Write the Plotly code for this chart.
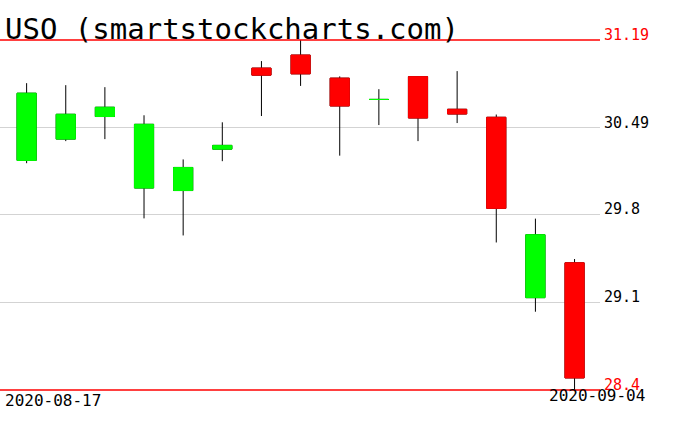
import plotly.graph_objects as go

# --- Data ---
dates = ["2020-08-17", "2020-08-18", "2020-08-19", "2020-08-20", "2020-08-21",
         "2020-08-24", "2020-08-25", "2020-08-26", "2020-08-27", "2020-08-28",
         "2020-08-31", "2020-09-01", "2020-09-02", "2020-09-03", "2020-09-04"]
opens = [30.23, 30.40, 30.58, 30.01, 29.99, 30.32, 30.966, 31.07, 30.886, 30.716,
         30.898, 30.638, 30.574, 29.136, 29.414]
highs = [30.846, 30.83, 30.814, 30.59, 30.238, 30.534, 31.022, 31.19, 30.90, 30.798,
         30.902, 30.942, 30.596, 29.766, 29.444]
lows = [30.208, 30.384, 30.40, 29.768, 29.632, 30.224, 30.584, 30.824, 30.268, 30.512,
        30.384, 30.528, 29.576, 29.024, 28.40]
closes = [30.766, 30.598, 30.654, 30.518, 30.174, 30.35, 30.91, 30.92, 30.664, 30.716,
          30.568, 30.60, 29.848, 29.638, 28.496]
price_ticks = [28.4, 29.1, 29.8, 30.49, 31.19]
title = "USO (smartstockcharts.com)"

font = "DejaVu Sans Mono"
body_top = [max(o, c) for o, c in zip(opens, closes)]
body_bot = [min(o, c) for o, c in zip(opens, closes)]

fig = go.Figure()
# wicks (black)
fig.add_trace(go.Candlestick(
    x=dates, open=opens, high=highs, low=lows, close=closes,
    increasing=dict(line=dict(color="black", width=1), fillcolor="black"),
    decreasing=dict(line=dict(color="black", width=1), fillcolor="black"),
    showlegend=False, hoverinfo="skip"))
# bodies (green / red)
fig.add_trace(go.Candlestick(
    x=dates, open=opens, high=body_top, low=body_bot, close=closes,
    increasing=dict(line=dict(color="#00ff00", width=1), fillcolor="#00ff00"),
    decreasing=dict(line=dict(color="#ff0000", width=1), fillcolor="#ff0000"),
    showlegend=False))

# red lines at the high / low of the period
for v in (max(highs), min(lows)):
    fig.add_shape(type="line", xref="paper", x0=0, x1=1, yref="y", y0=v, y1=v,
                  line=dict(color="red", width=1.5), layer="above")

# price labels on the right
for i, v in enumerate(price_ticks):
    col = "red" if i in (0, len(price_ticks) - 1) else "black"
    fig.add_annotation(x=1, xref="paper", y=v, yref="y", text=str(v),
                       showarrow=False, xanchor="left", yanchor="middle",
                       xshift=2, yshift=5, font=dict(family=font, size=15, color=col))

# first / last date
fig.add_annotation(x=0, xref="paper", y=0, yref="paper", text=dates[0],
                   showarrow=False, xanchor="left", yanchor="middle",
                   xshift=3, yshift=-9, font=dict(family=font, size=16, color="black"))
fig.add_annotation(x=1, xref="paper", y=0, yref="paper", text=dates[-1],
                   showarrow=False, xanchor="right", yanchor="middle",
                   xshift=47, yshift=-4, font=dict(family=font, size=16, color="black"))

pad = 0.008  # about one pixel, so the red edge lines are not clipped
fig.update_layout(
    width=676, height=431,
    margin=dict(l=0, r=76, t=39, b=40),
    paper_bgcolor="white", plot_bgcolor="white",
    title=dict(text=title, x=5 / 676, xanchor="left", xref="container",
               y=1 - 29 / 431, yanchor="middle", yref="container",
               font=dict(family=font, size=29, color="black")),
    xaxis=dict(type="category", range=[-0.68, 14.65], rangeslider=dict(visible=False),
               showticklabels=False, showgrid=False, zeroline=False, showline=False),
    yaxis=dict(range=[min(lows) - pad, max(highs) + pad], tickvals=price_ticks,
               showticklabels=False, showgrid=True, gridcolor="#d3d3d3", gridwidth=1,
               zeroline=False, showline=False),
)

# page body has a default 8px margin; remove it so the chart sits at the corner
fig.write_html("out.html", config={"displayModeBar": False},
               post_script="document.body.style.margin='0';")
